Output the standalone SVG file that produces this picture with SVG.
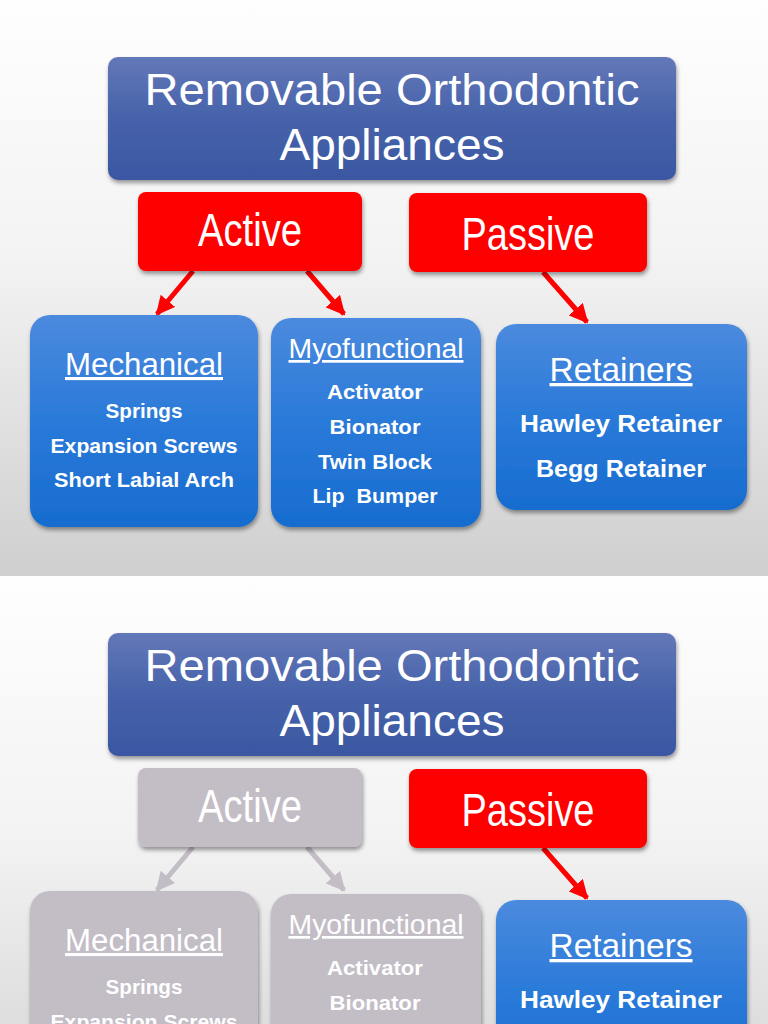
<svg xmlns="http://www.w3.org/2000/svg" width="768" height="1024" viewBox="0 0 768 1024">
<defs>
<linearGradient id="bg" x1="0" y1="0" x2="0" y2="1">
<stop offset="0" stop-color="#fefefe"/><stop offset="0.45" stop-color="#f3f3f3"/><stop offset="1" stop-color="#cfcfcf"/>
</linearGradient>
<linearGradient id="gTitle" x1="0" y1="0" x2="0" y2="1">
<stop offset="0" stop-color="#6378b8"/><stop offset="0.5" stop-color="#4662aa"/><stop offset="1" stop-color="#3b57a2"/>
</linearGradient>
<linearGradient id="gBlue" x1="0" y1="0" x2="0" y2="1">
<stop offset="0" stop-color="#4b8ade"/><stop offset="0.5" stop-color="#2a7ad9"/><stop offset="1" stop-color="#176ccf"/>
</linearGradient>
<filter id="sh" x="-10%" y="-10%" width="120%" height="125%">
<feDropShadow dx="1" dy="3" stdDeviation="2" flood-color="#000" flood-opacity="0.4"/>
</filter>
<marker id="ahR" viewBox="0 0 10 10" refX="9" refY="5" markerWidth="19" markerHeight="19" markerUnits="userSpaceOnUse" orient="auto">
<path d="M0,0 L10,5 L0,10 z" fill="#ff0000"/>
</marker>
<marker id="ahG" viewBox="0 0 10 10" refX="9" refY="5" markerWidth="19" markerHeight="19" markerUnits="userSpaceOnUse" orient="auto">
<path d="M0,0 L10,5 L0,10 z" fill="#c3bdc6"/>
</marker>
<style>
text{fill:#ffffff;text-anchor:middle;font-family:"Liberation Sans","Open Sans",sans-serif}
.title{font-size:44px}
.cat{font-size:46px}
.head{font-size:31px;text-decoration:underline}
.item{font-size:21px;font-weight:bold}
.item2{font-size:24px;font-weight:bold}
.arR{stroke:#ff0000;stroke-width:5;fill:none}
.arG{stroke:#c3bdc6;stroke-width:5;fill:none}
.red{fill:#ff0000}
.gray{fill:#c3bdc6}
</style>
</defs>
<rect x="0" y="0" width="768" height="1024" fill="#ffffff"/>
<rect x="0" y="0" width="768" height="576" fill="url(#bg)"/>
<rect x="0" y="576" width="768" height="576" fill="url(#bg)"/>

<!-- Slide 1 -->
<g id="s1-connectors">
<line class="arR" x1="193" y1="271" x2="157" y2="314" marker-end="url(#ahR)"/>
<line class="arR" x1="307" y1="271" x2="344" y2="314" marker-end="url(#ahR)"/>
<line class="arR" x1="543" y1="272" x2="587" y2="322" marker-end="url(#ahR)"/>
</g>
<g id="s1-title">
<rect x="108" y="57" width="568" height="123" rx="10" fill="url(#gTitle)" filter="url(#sh)"/>
<text class="title" x="392" y="105" textLength="495" lengthAdjust="spacingAndGlyphs">Removable Orthodontic</text>
<text class="title" x="392" y="160" textLength="225" lengthAdjust="spacingAndGlyphs">Appliances</text>
</g>
<g id="s1-active">
<rect x="138" y="192" width="224" height="79" rx="8" class="red" filter="url(#sh)"/>
<text class="cat" x="250" y="246" textLength="104" lengthAdjust="spacingAndGlyphs">Active</text>
</g>
<g id="s1-passive">
<rect x="409" y="193" width="238" height="79" rx="8" class="red" filter="url(#sh)"/>
<text class="cat" x="528" y="250" textLength="133" lengthAdjust="spacingAndGlyphs">Passive</text>
</g>
<g id="s1-mechanical">
<rect x="30" y="315" width="228" height="212" rx="20" fill="url(#gBlue)" filter="url(#sh)"/>
<text class="head" x="144" y="375" textLength="158" lengthAdjust="spacingAndGlyphs">Mechanical</text>
<text class="item" x="144" y="418" textLength="77" lengthAdjust="spacingAndGlyphs">Springs</text>
<text class="item" x="144" y="453" textLength="187" lengthAdjust="spacingAndGlyphs">Expansion Screws</text>
<text class="item" x="144" y="487" textLength="180" lengthAdjust="spacingAndGlyphs">Short Labial Arch</text>
</g>
<g id="s1-myofunctional">
<rect x="271" y="318" width="210" height="209" rx="20" fill="url(#gBlue)" filter="url(#sh)"/>
<text class="head" x="376" y="358" style="font-size:27px" textLength="175" lengthAdjust="spacingAndGlyphs">Myofunctional</text>
<text class="item" x="375" y="399" textLength="96" lengthAdjust="spacingAndGlyphs">Activator</text>
<text class="item" x="375" y="434" textLength="91" lengthAdjust="spacingAndGlyphs">Bionator</text>
<text class="item" x="375" y="469" textLength="114" lengthAdjust="spacingAndGlyphs">Twin Block</text>
<text class="item" x="375" y="503" textLength="125" lengthAdjust="spacingAndGlyphs" xml:space="preserve">Lip  Bumper</text>
</g>
<g id="s1-retainers">
<rect x="496" y="324" width="251" height="186" rx="20" fill="url(#gBlue)" filter="url(#sh)"/>
<text class="head" x="621" y="381" style="font-size:33px" textLength="143" lengthAdjust="spacingAndGlyphs">Retainers</text>
<text class="item2" x="621" y="432" textLength="202" lengthAdjust="spacingAndGlyphs">Hawley Retainer</text>
<text class="item2" x="621" y="477" textLength="170" lengthAdjust="spacingAndGlyphs">Begg Retainer</text>
</g>

<!-- Slide 2 -->
<g id="s2-connectors">
<line class="arG" x1="193" y1="847" x2="157" y2="890" marker-end="url(#ahG)"/>
<line class="arG" x1="307" y1="847" x2="344" y2="890" marker-end="url(#ahG)"/>
<line class="arR" x1="543" y1="848" x2="587" y2="898" marker-end="url(#ahR)"/>
</g>
<g id="s2-title">
<rect x="108" y="633" width="568" height="123" rx="10" fill="url(#gTitle)" filter="url(#sh)"/>
<text class="title" x="392" y="681" textLength="495" lengthAdjust="spacingAndGlyphs">Removable Orthodontic</text>
<text class="title" x="392" y="736" textLength="225" lengthAdjust="spacingAndGlyphs">Appliances</text>
</g>
<g id="s2-active">
<rect x="138" y="768" width="224" height="79" rx="8" class="gray" filter="url(#sh)"/>
<text class="cat" x="250" y="822" textLength="104" lengthAdjust="spacingAndGlyphs">Active</text>
</g>
<g id="s2-passive">
<rect x="409" y="769" width="238" height="79" rx="8" class="red" filter="url(#sh)"/>
<text class="cat" x="528" y="826" textLength="133" lengthAdjust="spacingAndGlyphs">Passive</text>
</g>
<g id="s2-mechanical">
<rect x="30" y="891" width="228" height="212" rx="20" class="gray" filter="url(#sh)"/>
<text class="head" x="144" y="951" textLength="158" lengthAdjust="spacingAndGlyphs">Mechanical</text>
<text class="item" x="144" y="994" textLength="77" lengthAdjust="spacingAndGlyphs">Springs</text>
<text class="item" x="144" y="1029" textLength="187" lengthAdjust="spacingAndGlyphs">Expansion Screws</text>
</g>
<g id="s2-myofunctional">
<rect x="271" y="894" width="210" height="209" rx="20" class="gray" filter="url(#sh)"/>
<text class="head" x="376" y="934" style="font-size:27px" textLength="175" lengthAdjust="spacingAndGlyphs">Myofunctional</text>
<text class="item" x="375" y="975" textLength="96" lengthAdjust="spacingAndGlyphs">Activator</text>
<text class="item" x="375" y="1010" textLength="91" lengthAdjust="spacingAndGlyphs">Bionator</text>
</g>
<g id="s2-retainers">
<rect x="496" y="900" width="251" height="186" rx="20" fill="url(#gBlue)" filter="url(#sh)"/>
<text class="head" x="621" y="957" style="font-size:33px" textLength="143" lengthAdjust="spacingAndGlyphs">Retainers</text>
<text class="item2" x="621" y="1008" textLength="202" lengthAdjust="spacingAndGlyphs">Hawley Retainer</text>
</g>
</svg>
